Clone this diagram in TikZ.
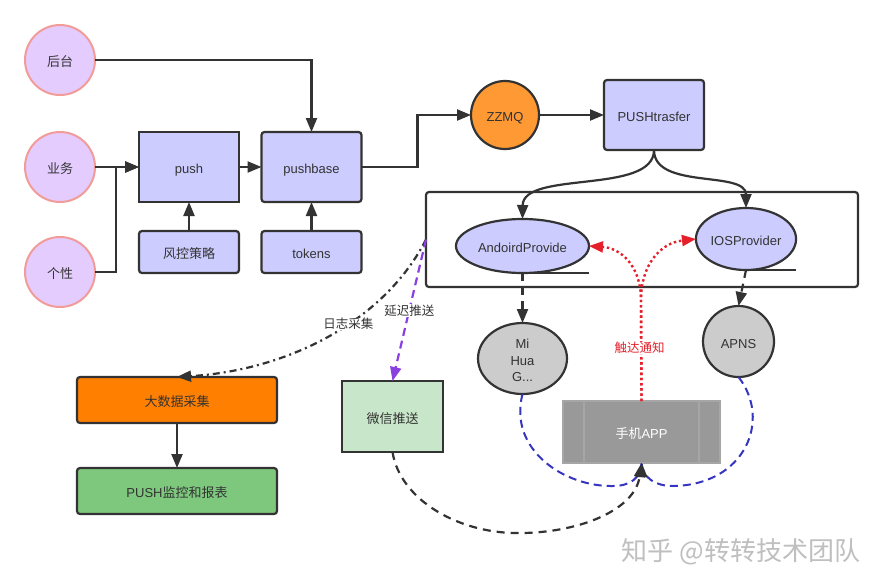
\documentclass[tikz,border=0pt]{standalone}
\usepackage{fontspec}
\setmainfont{Liberation Sans}
\newfontfamily\cjk{Noto Sans CJK SC}
\usetikzlibrary{scopes,arrows.meta,shapes.geometric}
\definecolor{ink}{HTML}{333333}
\definecolor{boxblue}{HTML}{CCCCFF}
\definecolor{srcfill}{HTML}{E5CCFF}
\definecolor{srcline}{HTML}{F19C99}
\definecolor{mqorange}{HTML}{FF9933}
\definecolor{bigorange}{HTML}{FF8000}
\definecolor{wxgreen}{HTML}{C8E6C9}
\definecolor{repgreen}{HTML}{7EC87E}
\definecolor{delayviolet}{HTML}{8A3FE0}
\definecolor{reachred}{HTML}{E5202A}
\definecolor{appblue}{HTML}{3535C0}
\def\tip{Triangle[length=14pt,width=11pt]}

\begin{document}
\begin{tikzpicture}[
  x=1pt,y=-1pt,
  every node/.style={text=ink,font=\fontsize{13}{16.5}\selectfont,inner sep=0pt,outer sep=0pt,text height=13pt,text depth=0pt},
  src/.style={circle,draw=srcline,fill=srcfill,line width=2pt,minimum size=70pt},
  box/.style={rectangle,draw=ink,fill=boxblue,line width=2.2pt,minimum width=100pt,minimum height=#1},
  box/.default=70pt,
  rbox/.style={box=#1,rounded corners=3pt},
  rbox/.default=70pt,
  provider/.style={ellipse,draw=ink,fill=boxblue,line width=2.2pt},
  ext/.style={ellipse,draw=ink,fill=black!20,line width=2.2pt},
  flow/.style={draw=ink,line width=2.2pt,-{\tip}},
  under/.style={draw=ink,line width=2.2pt},
  dashflow/.style={flow,dash pattern=on 8pt off 6pt},
  toapp/.style={draw=appblue,line width=2pt,dash pattern=on 8pt off 5pt},
  reach/.style={draw=reachred,line width=2.4pt,dash pattern=on 2.4pt off 2.8pt,-{\tip[fill=reachred]}},
  lbl/.style={fill=white,inner sep=1.5pt,text height=9.5pt,font=\cjk\fontsize{12.5}{14}\selectfont},
]
\useasboundingbox (0,0) rectangle (882,587);
\fill[white] (0,0) rectangle (882,587);

%% Sources
\node[src] (backend) at (60,60) {\cjk 后台};
\node[src] (biz) at (60,167) {\cjk 业务};
\node[src] (personal) at (60,272) {\cjk 个性};

%% Push path
\node[box] (push) at (189,167) {push};
\node[rbox] (pushbase) at (311.5,167) {pushbase};
\node[rbox=42pt] (risk) at (189,252) {\cjk 风控策略};
\node[rbox=42pt] (tokens) at (311.5,252) {tokens};
\node[circle,draw=ink,fill=mqorange,line width=2.2pt,minimum size=68pt] (zzmq) at (505,115) {ZZMQ};
\node[rbox] (trasfer) at (654,115) {PUSHtrasfer};

%% Provider group
\node[rbox=95pt,fill=none,minimum width=432pt] (group) at (642,239.5) {};
\node[provider,minimum width=133pt,minimum height=54pt] (android) at (522.5,246) {AndoirdProvide};
\node[provider,minimum width=98pt,minimum height=62pt] (ios) at (746,239) {IOSProvider};
\node[ext,minimum width=89pt,minimum height=71pt,align=center,text height=46pt] (mi) at (522.5,358.5) {Mi\\Hua\\G...};
\node[ext,minimum width=71pt,minimum height=71pt] (apns) at (738.5,341.5) {APNS};

%% Phone
\node[rectangle,draw=black!35,fill=black!40,line width=1.6pt,minimum width=157pt,minimum height=62pt,
  text=white] (app) at (641.5,432) {\cjk 手机\normalfont APP};
\draw[black!35,line width=1.6pt] (app.north west)++(21,0) coordinate (appl) -- (app.south west -| appl);
\draw[black!35,line width=1.6pt] (app.north east)++(-21,0) coordinate (appr) -- (app.south east -| appr);

%% Output boxes
\node[rectangle,draw=ink,fill=wxgreen,line width=2.2pt,minimum width=101pt,minimum height=71pt] (wechat) at (392.5,416.5) {\cjk 微信推送};
\node[rbox=46pt,fill=bigorange,minimum width=200pt] (bigdata) at (177,400) {\cjk 大数据采集};
\node[rbox=46pt,fill=repgreen,minimum width=200pt] (report) at (177,491) {PUSH{\cjk 监控和报表}};

%% Plain arrows
{[flow]
  \draw (backend.east) -| (pushbase.north);
  \draw (biz.east) -- (push.west |- biz.east);
  \draw (personal.east) -- ++(21,0) |- (push.west |- biz.east);
  \draw (push) -- (pushbase);
  \draw (risk) -- (push);
  \draw (tokens) -- (pushbase);
  \draw (pushbase.east) -- ++(56,0) |- (zzmq.west);
  \draw (zzmq) -- (trasfer);
  \draw (trasfer.south) .. controls (654,195) and (523,170) .. (android.north);
  \draw (trasfer.south) .. controls (654,190) and (746,170) .. (ios.north);
  \draw (bigdata) -- (report);
}

% Lines under the two providers
\draw[under] (android.south) -- (android.south -| android.east);
\draw[under] (ios.south) -- (ios.south -| ios.east);

{[dashflow]
  \draw (android.south) -- (mi.north);
  \draw (ios.south) -- (apns.north);
  \draw (wechat.south) .. controls (400,500) and (460,535) .. (523,533) .. controls (580,532) and (635,510) .. (app.south);
}

% Group outputs
\draw[flow,dash pattern=on 7pt off 4pt on 2pt off 4pt] (group.west) .. controls (385,320) and (290,370) .. node[lbl,pos=0.42] (loglbl) {日志采集} (bigdata.north);
\draw[flow,draw=delayviolet,-{\tip[fill=delayviolet]},dash pattern=on 8pt off 5pt] (group.west) -- node[lbl,pos=0.5] (delaylbl) {延迟推送} (wechat.north);

% Into the phone
\draw[toapp] (mi.south) .. controls (508,450) and (565,487) .. (613,486) .. controls (630,486) and (641,478) .. (app.south);
\draw[toapp] (apns.south) .. controls (772,420) and (745,485) .. (673,486) .. controls (655,486) and (643,478) .. (app.south);
\path[fill=ink] (app.south) -- ++(-6,14) -- ++(12,0) -- cycle;

% Reach notice
\coordinate (fork) at (641,300);
\draw[reach] (app.north) -- (fork) .. controls (641,265) and (620,248) .. (android.east);
\draw[reach] (app.north) -- (fork) .. controls (641,265) and (660,243) .. (ios.west);
\node[lbl,text=reachred] (reachlbl) at (639.5,348) {触达通知};

% Watermark
\node[text=black!25,text height=20pt,font=\cjk\fontsize{26}{28}\selectfont] (mark) at (741,550) {知乎 @转转技术团队};
\end{tikzpicture}
\end{document}
